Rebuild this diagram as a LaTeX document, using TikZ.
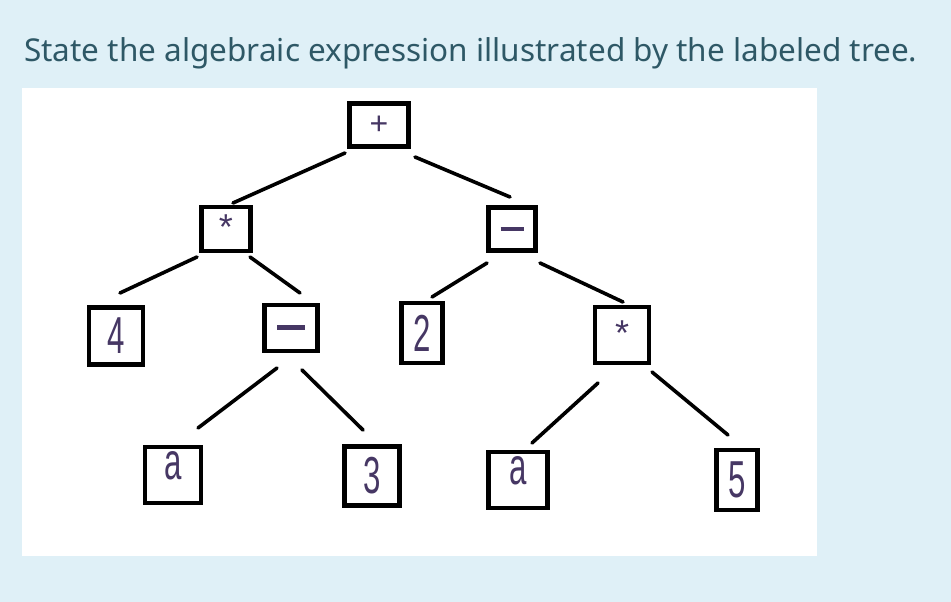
\documentclass[tikz,border=0pt]{standalone}
\usepackage{fontspec}
\setmainfont{Noto Sans}
\setsansfont{Liberation Sans}
\usepackage{graphicx}
\definecolor{bgblue}{RGB}{223,240,247}
\definecolor{titlecol}{RGB}{46,88,102}
\definecolor{glyph}{RGB}{70,55,100}
\newcommand{\tdig}[1]{\scalebox{0.6}[1]{\fontsize{52}{52}\selectfont #1}}
\newcommand{\tlet}[1]{\raisebox{-9pt}{\smash{\scalebox{0.6}[1]{\fontsize{52}{52}\selectfont #1}}}}
\newcommand{\tast}{\raisebox{-21pt}{\smash{\fontsize{36}{36}\selectfont *}}}
\begin{document}
\begin{tikzpicture}[x=1pt,y=1pt,
  tbox/.style={draw=black,line width=4.5pt,fill=white,inner sep=0pt,font=\sffamily,text=glyph},
  edge/.style={line width=3.6pt,draw=black,line cap=round}]
\useasboundingbox (0,0) rectangle (951,602);
\fill[bgblue] (0,0) rectangle (951,602);
\fill[white] (22,46) rectangle (817,514);
\node[anchor=base west,inner sep=0pt,text=titlecol] (title) at (24,540)
  {\resizebox{893pt}{!}{State the algebraic expression illustrated by the labeled tree.}};
% nodes
\node[tbox,minimum width=59pt,minimum height=43pt] (plus) at (379,477) {\fontsize{32}{32}\selectfont +};
\node[tbox,minimum width=49pt,minimum height=44pt] (ml) at (226,373) {\tast};
\node[tbox,minimum width=47pt,minimum height=43pt] (mr) at (512,373) {\rule{23pt}{4pt}};
\node[tbox,minimum width=54pt,minimum height=57pt] (n4) at (116,266) {\tdig{4}};
\node[tbox,minimum width=53pt,minimum height=46pt] (mm) at (291,274) {\rule{28pt}{5pt}};
\node[tbox,minimum width=41pt,minimum height=60pt] (n2) at (422,269) {\tdig{2}};
\node[tbox,minimum width=54pt,minimum height=56pt] (mr2) at (622,267) {\tast};
\node[tbox,minimum width=56pt,minimum height=56pt] (a1) at (173,127) {\tlet{a}};
\node[tbox,minimum width=55pt,minimum height=59pt] (n3) at (372,126) {\tdig{3}};
\node[tbox,minimum width=59pt,minimum height=56pt] (a2) at (518,122) {\tlet{a}};
\node[tbox,minimum width=41pt,minimum height=60pt] (n5) at (737,122) {\tdig{5}};
% edges
\draw[edge] ([shift={(-34,-28)}]plus.center) -- ([shift={(7,26)}]ml.center);
\draw[edge] ([shift={(36,-32)}]plus.center) -- ([shift={(-2,32)}]mr.center);
\draw[edge] ([shift={(-29,-28)}]ml.center) -- ([shift={(4,43)}]n4.center);
\draw[edge] ([shift={(24,-28)}]ml.center) -- ([shift={(9,35)}]mm.center);
\draw[edge] ([shift={(-14,-40)}]mm.center) -- ([shift={(25,47)}]a1.center);
\draw[edge] ([shift={(11,-42)}]mm.center) -- ([shift={(-9,46)}]n3.center);
\draw[edge] ([shift={(-25,-34)}]mr.center) -- ([shift={(10,36)}]n2.center);
\draw[edge] ([shift={(28,-34)}]mr.center) -- ([shift={(1,33)}]mr2.center);
\draw[edge] ([shift={(-24,-48)}]mr2.center) -- ([shift={(14,37)}]a2.center);
\draw[edge] ([shift={(30,-37)}]mr2.center) -- ([shift={(-9,45)}]n5.center);
\end{tikzpicture}
\end{document}
